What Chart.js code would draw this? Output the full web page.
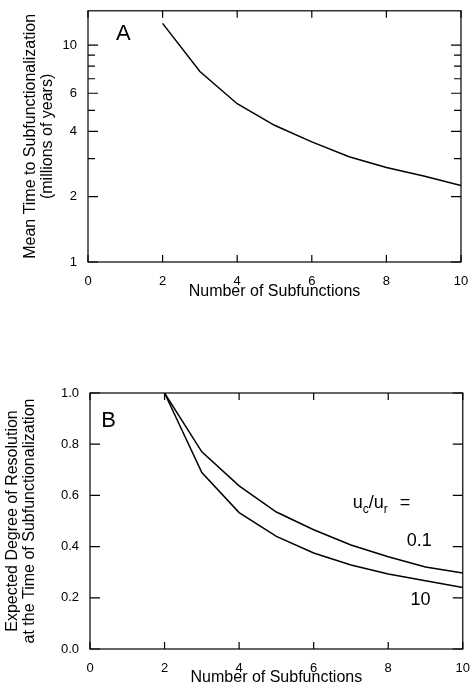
<!DOCTYPE html><html><head><script src="https://cdn.jsdelivr.net/npm/chart.js@4"></script>
<style>body{margin:0;background:#fff}div{position:absolute;left:0}</style></head><body>
<div style="top:0;width:474px;height:305px"><canvas id="a"></canvas></div>
<div style="top:360px;width:474px;height:331px"><canvas id="b"></canvas></div>
<script>
const subfunctions=[2,3,4,5,6,7,8,9,10];
const meanTime=[12.6,7.56,5.37,4.27,3.58,3.06,2.73,2.49,2.25];
const resolution01=[1.0,0.77,0.637,0.535,0.466,0.406,0.36,0.32,0.297];
const resolution10=[1.0,0.689,0.533,0.44,0.375,0.328,0.293,0.267,0.24];
const logTicks=[1,2,3,4,5,6,7,8,9,10];
const logLabels=[1,2,4,6,10];
const F='"Liberation Sans", Arial, sans-serif';
Chart.defaults.font.family=F;Chart.defaults.color='#000';
const inTicks={id:'inTicks',afterDraw(c){const g=c.ctx,a=c.chartArea,x=c.scales.x,y=c.scales.y;g.save();g.strokeStyle='#000';g.lineWidth=1.2;g.beginPath();
x.ticks.forEach(t=>{const p=x.getPixelForValue(t.value);g.moveTo(p,a.bottom);g.lineTo(p,a.bottom-7);g.moveTo(p,a.top);g.lineTo(p,a.top+7);});
y.ticks.forEach(t=>{const p=y.getPixelForValue(t.value);const L=t.label?10:7;g.moveTo(a.left,p);g.lineTo(a.left+L,p);g.moveTo(a.right,p);g.lineTo(a.right-L,p);});
g.stroke();g.strokeRect(a.left,a.top,a.right-a.left,a.bottom-a.top);
(c.options.plugins.notes||[]).forEach(n=>{g.font=n.f+'px '+F;g.fillStyle='#000';g.textAlign='left';g.textBaseline='middle';g.fillText(n.t,x.getPixelForValue(n.x),y.getPixelForValue(n.y));});
g.restore();}};
function mk(id,datasets,yopt,pad,yw,xh,ytitle,notes,extra){
return new Chart(document.getElementById(id),{type:'line',data:{labels:subfunctions,datasets},plugins:[inTicks,...(extra||[])],
options:{responsive:true,maintainAspectRatio:false,animation:false,layout:{padding:pad},
plugins:{legend:{display:false},tooltip:{enabled:false},notes},
elements:{point:{radius:0},line:{borderColor:'#000',borderWidth:1.5,tension:0}},
scales:{x:{type:'linear',min:0,max:10,ticks:{stepSize:2,font:{size:13},padding:4},grid:{display:false},border:{display:false},
title:{display:true,text:'Number of Subfunctions',font:{size:16},padding:{top:2}},afterFit(s){s.height=xh;}},
y:Object.assign({grid:{display:false},border:{display:false},title:{display:true,text:ytitle,font:{size:16,lineHeight:1.05},padding:{bottom:8}},afterFit(s){s.width=yw;}},yopt)}}});}
mk('a',[{data:meanTime}],{type:'logarithmic',min:1,max:14.4,afterBuildTicks(s){s.ticks=logTicks.map(v=>({value:v}));},
ticks:{font:{size:13},autoSkip:false,callback:v=>logLabels.includes(v)?String(v):''}},
{top:5,right:13,left:18},70,43,['Mean Time to Subfunctionalization','(millions of years)'],[{t:'A',x:0.75,y:11.3,f:22}]);
mk('b',[{data:resolution01},{data:resolution10}],{min:0,max:1,ticks:{stepSize:0.2,font:{size:13},callback:v=>v.toFixed(1)}},
{top:33,right:10,left:0},90,42,['Expected Degree of Resolution','at the Time of Subfunctionalization'],
[{t:'B',x:0.3,y:0.89,f:22},{t:'0.1',x:8.5,y:0.42,f:18},{t:'10',x:8.6,y:0.19,f:18}],
[{id:'uc',afterDraw(c){const g=c.ctx,x=c.scales.x,y=c.scales.y;g.save();g.fillStyle='#000';g.textBaseline='alphabetic';g.textAlign='left';
let px=x.getPixelForValue(7.05),py=y.getPixelForValue(0.55);g.font='18px '+F;g.fillText('u',px,py);px+=g.measureText('u').width;
g.font='12px '+F;g.fillText('c',px,py+5);px+=g.measureText('c').width;g.font='18px '+F;g.fillText('/u',px,py);px+=g.measureText('/u').width;
g.font='12px '+F;g.fillText('r',px,py+5);px+=g.measureText('r').width+12;g.font='18px '+F;g.fillText('=',px,py);g.restore();}}]);
</script></body></html>
